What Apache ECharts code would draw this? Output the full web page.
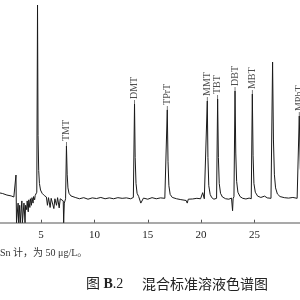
<!DOCTYPE html>
<html>
<head>
<meta charset="utf-8">
<script src="https://cdn.jsdelivr.net/npm/echarts@6/dist/echarts.min.js"></script>
<style>html,body{margin:0;padding:0;background:#fff}#c{width:300px;height:300px}</style>
</head>
<body>
<div id="c"></div>
<script>
// retention time (min)
const times = [
  1.0, 1.4, 1.8, 2.2, 2.45, 2.55, 2.65, 2.7, 2.75, 2.85, 2.9, 3.0, 3.05, 3.2, 3.25, 3.4, 3.5, 3.55,
  3.65, 3.7, 3.8, 3.85, 3.95, 4.0, 4.1, 4.15, 4.25, 4.3, 4.4, 4.45, 4.55, 4.6,
  4.67, 4.72, 4.78, 4.85, 4.95, 5.1, 5.3,
  5.5, 5.6, 5.7, 5.85, 5.95, 6.1, 6.2, 6.3, 6.45, 6.55, 6.7, 6.8, 6.95, 7.08, 7.12, 7.18, 7.3,
  7.38, 7.45, 7.52, 7.62, 7.8,
  8.2, 8.6, 9.0, 9.4, 9.8, 10.2, 10.6, 11.0, 11.4, 11.8, 12.2, 12.6, 13.0, 13.4, 13.65,
  13.76, 13.82, 13.9, 14.0, 14.15, 14.35, 14.6,
  15.0, 15.4, 15.8, 16.2, 16.6, 16.75,
  16.83, 16.9, 16.98, 17.1, 17.3,
  17.7, 18.1, 18.6, 18.7, 18.8, 19.2, 19.6, 19.95, 20.15, 20.3, 20.48,
  20.58, 20.64, 20.72, 20.85, 21.0, 21.2, 21.45,
  21.55, 21.62, 21.7, 21.82, 22.0, 22.3, 22.6, 22.85, 22.95, 23.0, 23.08,
  23.18, 23.25, 23.33, 23.45, 23.65, 23.9, 24.2, 24.5, 24.7,
  24.8, 24.87, 24.95, 25.08, 25.3, 25.6, 25.95, 26.2, 26.55, 26.62,
  26.7, 26.78, 26.87, 26.98, 27.15, 27.4, 27.8, 28.2, 28.6, 29.0, 29.12,
  29.2, 29.3, 29.45, 29.7, 30.0
];
// detector response (relative)
const signal = [
  13.8, 13.4, 12.7, 12.3, 11.8, 10.9, 21.9, 0, 0, 9, 0, 8, 0, 10, 0, 9, 0, 8,
  6, 10, 5, 10.5, 7, 11, 8, 11.5, 9, 12, 10.5, 12.5, 13, 14,
  100, 40, 24, 18, 15, 13.5, 12.5,
  11.8, 8, 11.5, 7, 11.2, 11.6, 6.5, 11, 8, 11.5, 6.8, 11, 11.2, 10, 0, 9, 11,
  35.2, 22, 16, 13.5, 12.3,
  11.6, 11.0, 11.5, 10.8, 11.4, 11.1, 11.6, 11.0, 11.4, 11.0, 11.5, 11.2, 11.4, 11.0, 11.6,
  54.5, 30, 18, 13.5, 12, 9, 11.3,
  10.8, 11.5, 11.0, 11.4, 11.2, 11.5,
  51.8, 28, 17, 13, 11.6,
  11, 10.6, 10.2, 9, 10.8, 10.9, 11.2, 11.0, 13.8, 11, 11.5,
  55.9, 30, 17, 13, 11.5, 10.8, 11.2,
  56.8, 30, 18, 13.5, 11.8, 11.0, 10.8, 11.3, 5.5, 11, 12,
  60.5, 32, 19, 14, 12, 11.2, 10.9, 11.3, 11.0,
  59.1, 31, 18, 14, 12.2, 11.6, 12.2, 11.4, 11.2, 12,
  73.8, 38, 22, 16, 13.2, 12, 11.5, 11.3, 11.6, 11.2, 11.6,
  49, 25, 15, 12, 11.5
];
// labelled peaks
const peakNames = ['TMT', 'DMT', 'TPrT', 'MMT', 'TBT', 'DBT', 'MBT', 'MPhT'];
const peakTimes = [7.38, 13.76, 16.83, 20.58, 21.55, 23.18, 24.8, 29.2];
const peakHeights = [35.2, 54.5, 51.8, 55.9, 56.8, 60.5, 59.1, 49];
// x-axis tick labels
const xTicks = [5, 10, 15, 20, 25];
const noteText = 'Sn 计，为 50 μg/L。';
const captionText = '混合标准溶液色谱图';

const lineData = times.map((t, i) => [t, signal[i]]);
const labelData = peakNames.map((n, i) => ({ name: n, value: [peakTimes[i], peakHeights[i]] }));

const chart = echarts.init(document.getElementById('c'), null, { renderer: 'canvas' });
chart.setOption({
  animation: false,
  backgroundColor: '#fff',
  grid: { left: -12.3, right: -7.8, top: 5, bottom: 77.3, containLabel: false, outerBoundsMode: 'none' },
  xAxis: {
    type: 'value', min: 0, max: 30, interval: 5,
    splitLine: { show: false },
    axisLine: { lineStyle: { color: '#8c8c8c', width: 1.5 } },
    axisTick: { inside: true, length: 3, lineStyle: { color: '#555' } },
    axisLabel: {
      margin: 7, color: '#222', fontSize: 11, fontFamily: 'Liberation Serif',
      showMinLabel: false, showMaxLabel: false,
      formatter: v => (xTicks.indexOf(v) >= 0 ? String(v) : '')
    }
  },
  yAxis: { type: 'value', min: 0, max: 100, show: false },
  series: [
    {
      type: 'line', data: lineData, showSymbol: false, symbol: 'none',
      lineStyle: { color: '#1a1a1a', width: 1 }, clip: true, z: 2
    },
    {
      type: 'scatter', data: labelData,
      symbol: 'rect', symbolSize: [0.8, 4], symbolOffset: [0, '-50%'],
      itemStyle: { color: '#333' }, clip: false, z: 3,
      label: {
        show: true, position: 'top', distance: 1, rotate: 90,
        align: 'left', verticalAlign: 'middle',
        formatter: '{b}', color: '#222', fontSize: 10, fontFamily: 'Liberation Serif'
      }
    }
  ],
  graphic: [
    { type: 'text', left: 0, top: 248, style: { text: noteText, fill: '#333', font: '10px "Liberation Serif", "Noto Sans CJK SC"' } },
    { type: 'text', left: 86, top: 277, style: {
        text: '{a|图 }{b|B}{a|.2}', rich: {
          a: { fill: '#222', fontSize: 14, fontFamily: '"Liberation Serif", "Noto Sans CJK SC"' },
          b: { fill: '#222', fontSize: 14, fontWeight: 'bold', fontFamily: '"Liberation Serif"' }
        } } },
    { type: 'text', left: 142, top: 277, style: { text: captionText, fill: '#222', font: '14px "Noto Sans CJK SC"' } }
  ]
});
</script>
</body>
</html>
